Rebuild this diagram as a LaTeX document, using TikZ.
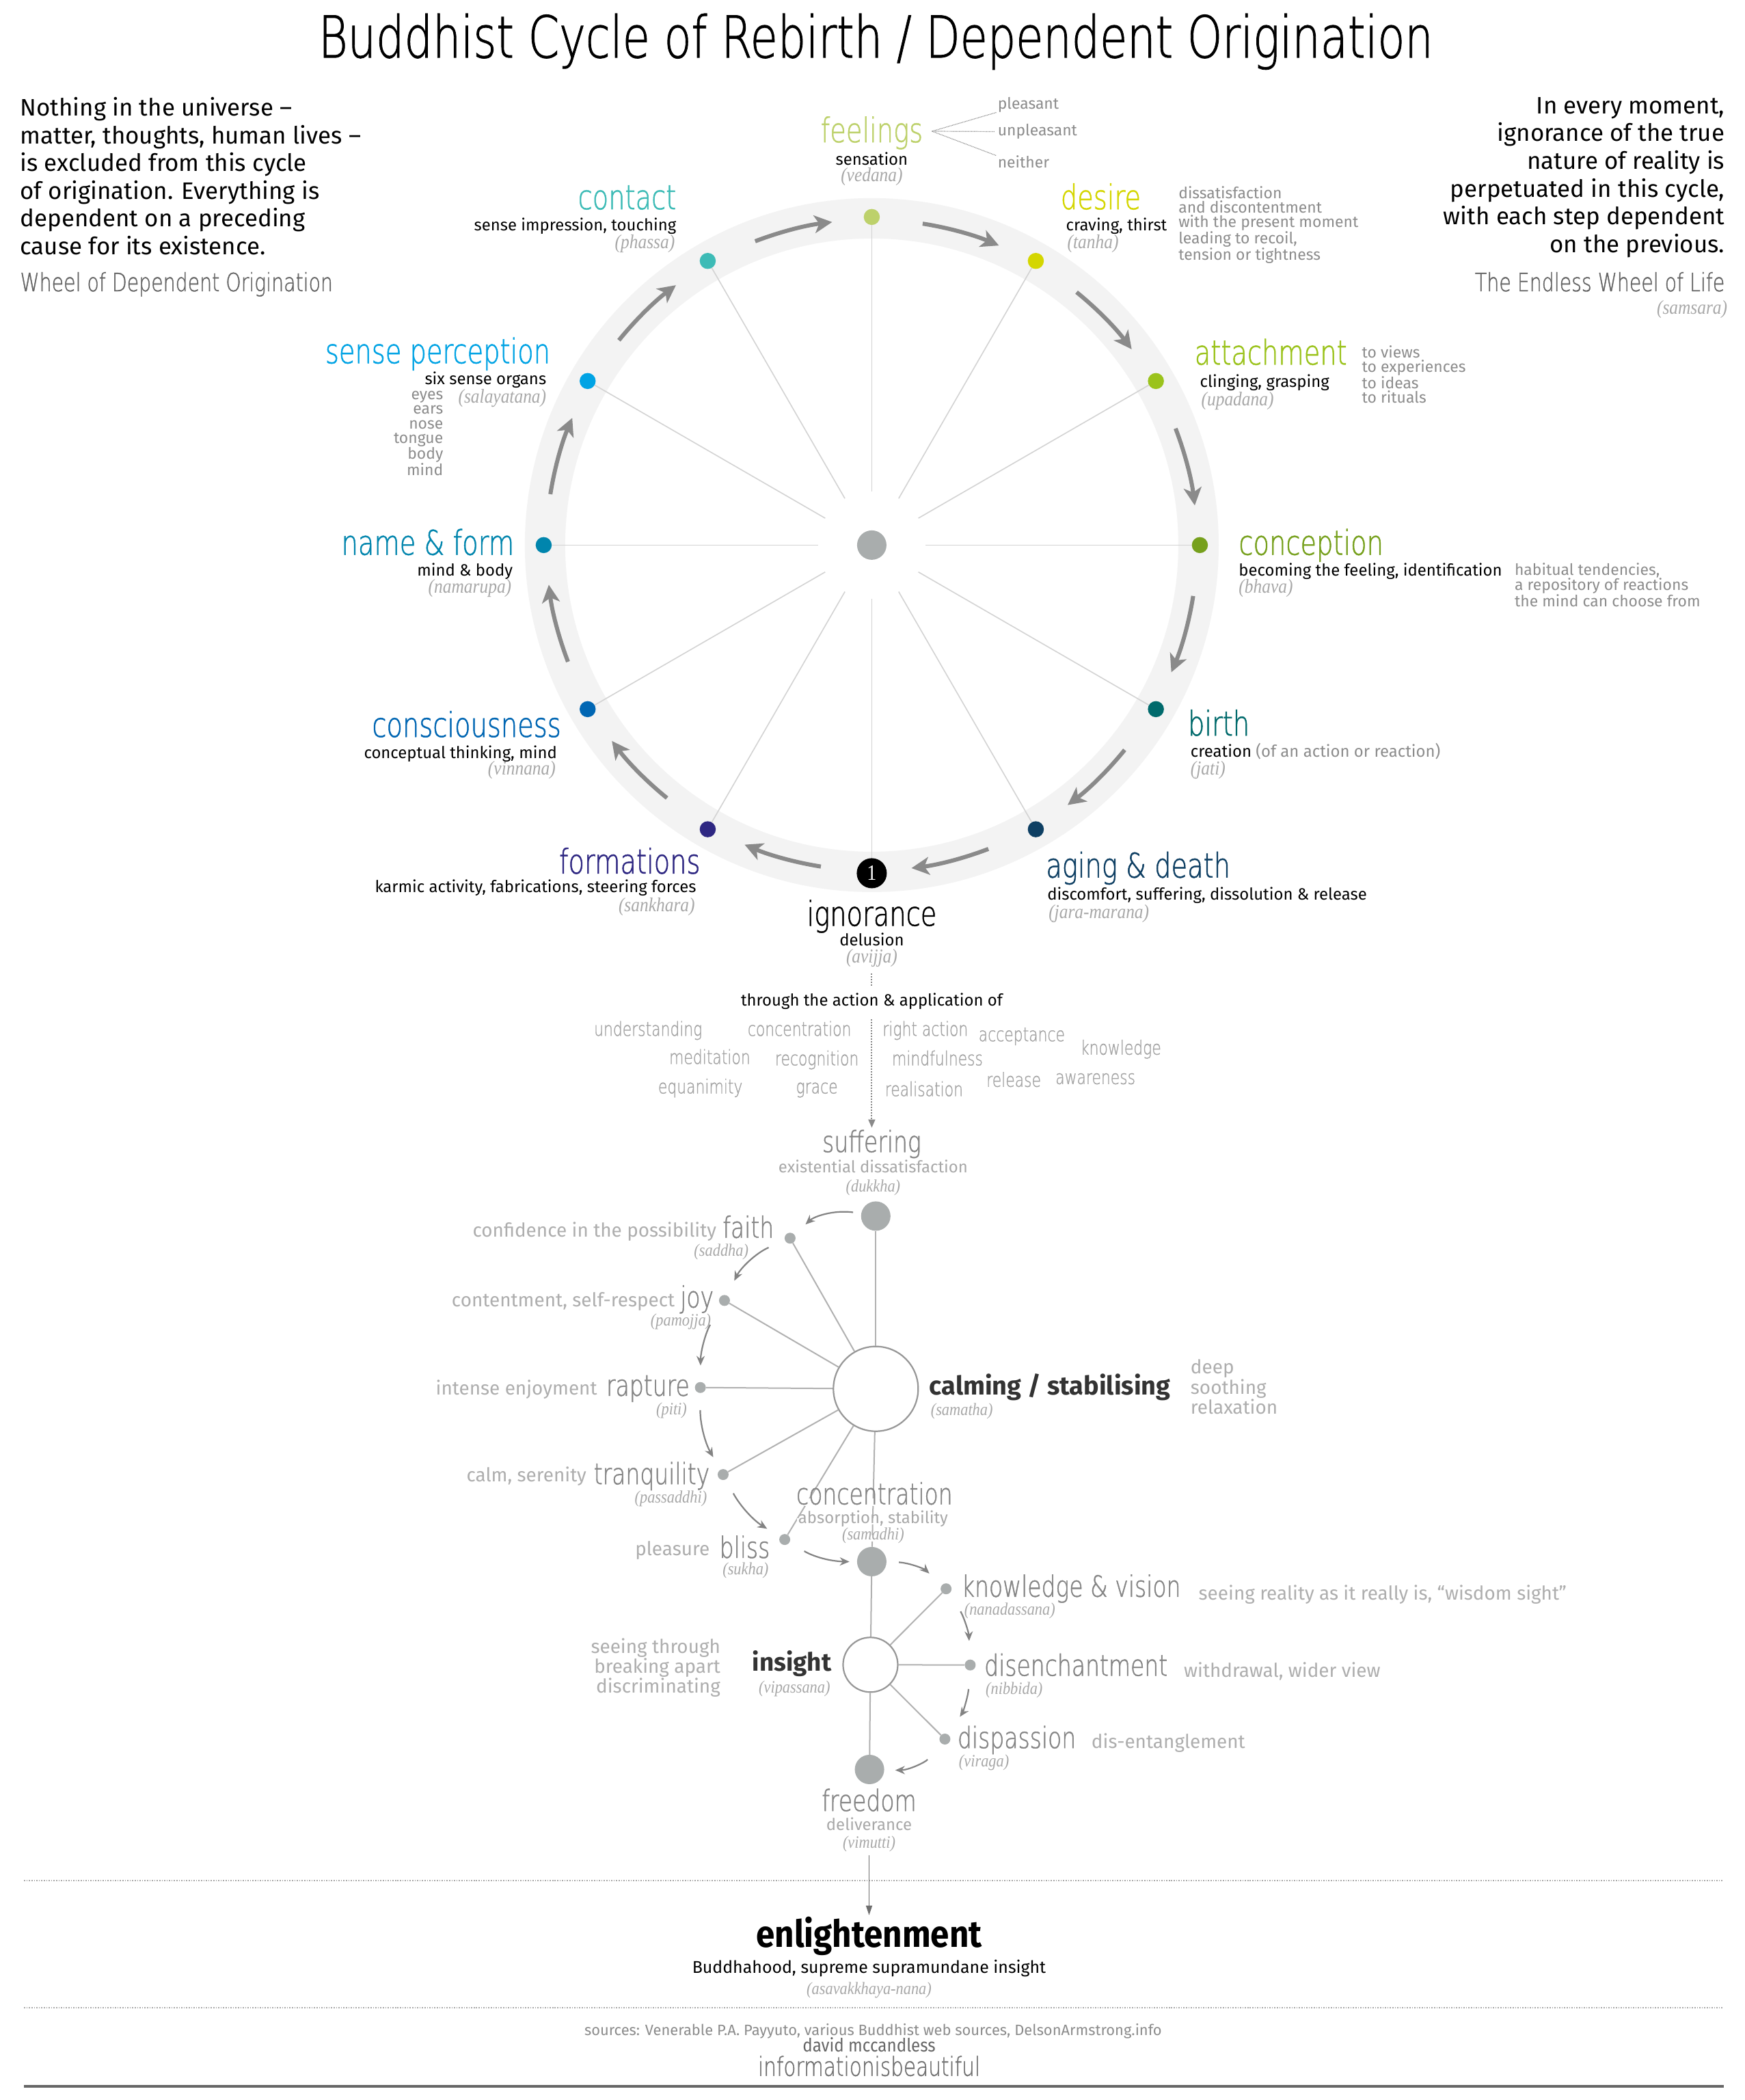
\documentclass[tikz,border=0pt]{standalone}
\usepackage{fontspec}
\setmainfont{Fira Sans}
\newfontfamily\lt{DejaVu Sans ExtraLight}[FakeStretch=0.77, FakeBold=1]
\newfontfamily\rg{Fira Sans}
\newfontfamily\rgc{Fira Sans}[FakeStretch=0.9]
\newfontfamily\srf{Liberation Serif}[FakeStretch=0.88]
\usetikzlibrary{arrows.meta}
\definecolor{cFeel}{HTML}{BDD16B}
\definecolor{cDes}{HTML}{D4D600}
\definecolor{cAtt}{HTML}{9BC31C}
\definecolor{cCon}{HTML}{76A01C}
\definecolor{cBir}{HTML}{006A6C}
\definecolor{cAge}{HTML}{0E3F63}
\definecolor{cFor}{HTML}{2E2782}
\definecolor{cCns}{HTML}{0066B3}
\definecolor{cNam}{HTML}{0085AD}
\definecolor{cSen}{HTML}{00A3E4}
\definecolor{cCnt}{HTML}{3DBBB6}
\definecolor{ringgray}{HTML}{F3F3F3}
\definecolor{spokegray}{HTML}{D3D3D3}
\definecolor{arrowgray}{HTML}{8A8A8A}
\definecolor{palgray}{HTML}{A8A8A8}
\definecolor{notegray}{HTML}{8C8C8C}
\definecolor{hubgray}{HTML}{A9ADAD}
\definecolor{lowtitle}{HTML}{858585}
\definecolor{lowsub}{HTML}{A8A8A8}
\definecolor{lownote}{HTML}{AEAEAE}
\definecolor{darktxt}{HTML}{333333}
\definecolor{cloudgray}{HTML}{A5A5A5}
\tikzset{
  ttl/.style={font=\lt\fontsize{50}{56}\selectfont, inner sep=0pt, anchor=mid, yshift=-13.5bp, text height=1.2ex, text depth=0pt},
  sub/.style={font=\rg\fontsize{24}{28}\selectfont, inner sep=0pt, text=black, anchor=mid, yshift=-7.5bp, text height=1ex, text depth=0pt},
  pal/.style={font=\srf\itshape\fontsize{29}{32}\selectfont, inner sep=0pt, text=palgray, anchor=mid, yshift=-8.5bp, text height=1ex, text depth=0pt},
  note/.style={font=\rg\fontsize{23}{21.3}\selectfont, inner sep=0pt, text=notegray, yshift=-4bp},
  para/.style={font=\rg\fontsize{35}{40.7}\selectfont, inner sep=0pt, text=black, yshift=-3bp},
  wdot/.style={circle, inner sep=0pt, minimum size=23.5bp},
  spoke/.style={draw=spokegray, line width=1.6bp},
  warrow/.style={draw=arrowgray, line width=6bp, -{Stealth[length=26bp, width=26bp, inset=7bp]}},
  fan/.style={draw=notegray, line width=1.2bp, densely dotted},
  cloud/.style={font=\lt\fontsize{28.5}{30}\selectfont, text=cloudgray, inner sep=0pt, anchor=mid, yshift=-8bp},
  ltt/.style={font=\lt\fontsize{43}{48}\selectfont, text=lowtitle, inner sep=0pt, anchor=mid, yshift=-11.5bp, text height=1.2ex, text depth=0pt},
  lsub/.style={font=\rg\fontsize{24}{27}\selectfont, text=lowsub, inner sep=0pt, anchor=mid, yshift=-6bp, text height=1ex, text depth=0pt},
  lpal/.style={font=\srf\itshape\fontsize{25.5}{28}\selectfont, text=lowsub, inner sep=0pt, anchor=mid, yshift=-7bp, text height=1ex, text depth=0pt},
  lnote/.style={font=\rg\fontsize{28}{29.5}\selectfont, text=lownote, inner sep=0pt, yshift=-6bp},
  bigdot/.style={circle, inner sep=0pt, minimum size=43bp, fill=hubgray},
  smdot/.style={circle, inner sep=0pt, minimum size=16bp, fill=hubgray},
  ring/.style={circle, inner sep=0pt, draw=lowtitle!85, line width=2.2bp, fill=white},
  lspoke/.style={draw=lowsub!90, line width=2bp},
  carrow/.style={draw=arrowgray!95!black, line width=2.2bp, -{Stealth[length=14bp, width=12bp]}},
  dotln/.style={draw=arrowgray, line width=2bp, dotted},
  hdots/.style={draw=lowsub, line width=1.6bp, dotted},
  boldl/.style={font=\rg\bfseries\fontsize{38}{42}\selectfont, text=darktxt, inner sep=0pt, yshift=-10bp},
}
\begin{document}
\begin{tikzpicture}[x=1.9586bp, y=-1.9586bp]
\useasboundingbox (0,0) rectangle (1303,1568);
\fill[white] (0,0) rectangle (1303,1568);

% ---------- title and side texts
\node[font=\lt\fontsize{85}{92}\selectfont, anchor=base, inner sep=0pt] (title) at (654,43) {Buddhist Cycle of Rebirth / Dependent Origination};

\node[para, anchor=north west, align=left] (lpara) at (15,71) {Nothing in the universe –\\matter, thoughts, human lives –\\is excluded from this cycle\\of origination. Everything is\\dependent on a preceding\\cause for its existence.};
\node[font=\lt\fontsize{37}{40}\selectfont, text=black!60, inner sep=0pt, anchor=mid west, yshift=-10bp] (lwheel) at (15,211) {Wheel of Dependent Origination};

\node[para, anchor=north east, align=right] (rpara) at (1288,71) {In every moment,\\ignorance of the true\\nature of reality is\\perpetuated in this cycle,\\with each step dependent\\on the previous.};
\node[font=\lt\fontsize{37}{40}\selectfont, text=black!60, inner sep=0pt, anchor=mid east, yshift=-10bp] (rwheel) at (1288,211) {The Endless Wheel of Life};
\node[pal, anchor=mid east] (rsams) at (1290,229) {(samsara)};

% ---------- wheel
\begin{scope}[shift={(651,407)}]
  \coordinate (C) at (0,0);
  \draw[line width=59bp, ringgray] (C) circle[radius=244];
  \node[bigdot] (hub) at (C) {};
  \node[wdot, fill=black, minimum size=44bp, text=white, font=\srf\fontsize{32}{32}\selectfont] (nIgn) at (90:245) {1};
  \node[wdot, fill=cFor] (nFor) at (120:245) {};
  \node[wdot, fill=cCns] (nCns) at (150:245) {};
  \node[wdot, fill=cNam] (nNam) at (180:245) {};
  \node[wdot, fill=cSen] (nSen) at (210:245) {};
  \node[wdot, fill=cCnt] (nCnt) at (240:245) {};
  \node[wdot, fill=cFeel] (nFeel) at (270:245) {};
  \node[wdot, fill=cDes] (nDes) at (300:245) {};
  \node[wdot, fill=cAtt] (nAtt) at (330:245) {};
  \node[wdot, fill=cCon] (nCon) at (0:245) {};
  \node[wdot, fill=cBir] (nBir) at (30:245) {};
  \node[wdot, fill=cAge] (nAge) at (60:245) {};
  \foreach \n in {nIgn,nFor,nCns,nNam,nSen,nCnt,nFeel,nDes,nAtt,nCon,nBir,nAge}
    \draw[spoke, shorten <=57bp] (hub) -- (\n);
  \foreach \a in {90,120,...,420}
    \draw[warrow] ({\a+9}:243) arc[start angle=\a+9, end angle=\a+23, radius=243];
\end{scope}

% ---------- wheel labels
% feelings
\node[ttl, text=cFeel] (tFeel) at (651,98) {feelings};
\node[sub] (sFeel) at (651,118) {sensation};
\node[pal] (pFeel) at (651,130) {(vedana)};
\node[note, anchor=mid west] (fpl) at (745,78) {pleasant};
\node[note, anchor=mid west] (fun) at (745,98) {unpleasant};
\node[note, anchor=mid west] (fne) at (745,122) {neither};
\coordinate (fanO) at (696,98);
\draw[fan] (fanO) -- ([xshift=-2bp]fpl.south west);
\draw[fan] (fanO) -- ([xshift=-4bp]fun.west);
\draw[fan] (fanO) -- ([xshift=-2bp]fne.north west);
% desire
\node[ttl, text=cDes, anchor=mid west] (tDes) at (792,148) {desire};
\node[sub, anchor=mid west] (sDes) at (796,167) {craving, thirst};
\node[pal, anchor=mid west] (pDes) at (797,180) {(tanha)};
\node[note, anchor=north west, align=left] (nDesN) at (880,137) {dissatisfaction\\and discontentment\\with the present moment\\leading to recoil,\\tension or tightness};
% attachment
\node[ttl, text=cAtt, anchor=mid west] (tAtt) at (892,264) {attachment};
\node[sub, anchor=mid west] (sAtt) at (896,284) {clinging, grasping};
\node[pal, anchor=mid west] (pAtt) at (897,297) {(upadana)};
\node[note, anchor=north west, align=left] (nAttN) at (1017,256) {to views\\to experiences\\to ideas\\to rituals};
% conception
\node[ttl, text=cCon, anchor=mid west] (tCon) at (925,406) {conception};
\node[sub, anchor=mid west] (sCon) at (925,425) {becoming the feeling, identification};
\node[pal, anchor=mid west] (pCon) at (925,437) {(bhava)};
\node[note, anchor=north west, align=left] (nConN) at (1131,418) {habitual tendencies,\\a repository of reactions\\the mind can choose from};
% birth
\node[ttl, text=cBir, anchor=mid west] (tBir) at (887,541) {birth};
\node[sub, anchor=mid west] (sBir) at (889,560) {creation \textcolor{notegray}{(of an action or reaction)}};
\node[pal, anchor=mid west] (pBir) at (889,573) {(jati)};
% aging
\node[ttl, text=cAge, anchor=mid west] (tAge) at (781,647) {aging \& death};
\node[sub, anchor=mid west] (sAge) at (782,667) {discomfort, suffering, dissolution \& release};
\node[pal, anchor=mid west] (pAge) at (783,680) {(jara-marana)};
% ignorance
\node[ttl, text=black] (tIgn) at (651,683) {ignorance};
\node[sub] (sIgn) at (651,701) {delusion};
\node[pal] (pIgn) at (651,713) {(avijja)};
% formations
\node[ttl, text=cFor, anchor=mid east] (tFor) at (523,644) {formations};
\node[sub, anchor=mid east] (sFor) at (520,661) {karmic activity, fabrications, steering forces};
\node[pal, anchor=mid east] (pFor) at (519,675) {(sankhara)};
% consciousness
\node[ttl, text=cCns, anchor=mid east] (tCns) at (419,542) {consciousness};
\node[sub, anchor=mid east] (sCns) at (416,561) {conceptual thinking, mind};
\node[pal, anchor=mid east] (pCns) at (415,573) {(vinnana)};
% name & form
\node[ttl, text=cNam, anchor=mid east] (tNam) at (384,406) {name \& form};
\node[sub, anchor=mid east] (sNam) at (383,425) {mind \& body};
\node[pal, anchor=mid east] (pNam) at (382,437) {(namarupa)};
% sense perception
\node[ttl, text=cSen, anchor=mid east] (tSen) at (411,263) {sense perception};
\node[sub, anchor=mid east] (sSen) at (408,282) {six sense organs};
\node[pal, anchor=mid east] (pSen) at (408,295) {(salayatana)};
\node[note, anchor=north east, align=right] (nSenN) at (331,290) {eyes\\ears\\nose\\tongue\\body\\mind};
% contact
\node[ttl, text=cCnt, anchor=mid east] (tCnt) at (505,148) {contact};
\node[sub, anchor=mid east] (sCnt) at (505,167) {sense impression, touching};
\node[pal, anchor=mid east] (pCnt) at (504,180) {(phassa)};

% ---------- transition
\coordinate (dA) at (651,727);
\coordinate (dB) at (651,737);
\draw[dotln] (dA) -- (dB);
\node[sub] (thr) at (651,746) {through the action \& application of};
\node[cloud] (w1) at (484,768) {understanding};
\node[cloud] (w2) at (597,768) {concentration};
\node[cloud] (w3) at (691,768) {right action};
\node[cloud] (w4) at (763,772) {acceptance};
\node[cloud] (w5) at (837,782) {knowledge};
\node[cloud] (w6) at (530,789) {meditation};
\node[cloud] (w7) at (610,790) {recognition};
\node[cloud] (w8) at (700,790) {mindfulness};
\node[cloud] (w9) at (757,806) {release};
\node[cloud] (w10) at (818,804) {awareness};
\node[cloud] (w11) at (523,811) {equanimity};
\node[cloud] (w12) at (610,811) {grace};
\node[cloud] (w13) at (690,813) {realisation};
\coordinate (dC) at (651,761);
\coordinate (dD) at (651,842);
\draw[dotln, -{Triangle[length=12bp, width=10bp]}] (dC) -- (dD);

% ---------- calming section
\node[ltt] (tSuf) at (651,853) {suffering};
\node[lsub] (sSuf) at (652,871) {existential dissatisfaction};
\node[lpal] (pSuf) at (652,885) {(dukkha)};

\node[bigdot] (dSuf) at (654,908) {};
\node[ring, minimum size=124bp] (calm) at (654,1037) {};
\node[smdot] (dFai) at (590,924.5) {};
\node[smdot] (dJoy) at (541,971) {};
\node[smdot] (dRap) at (523,1036) {};
\node[smdot] (dTra) at (540,1101) {};
\node[smdot] (dBli) at (586,1149.5) {};
\node[bigdot] (dCnc) at (651,1166) {};
\node[ring, minimum size=80bp] (ins) at (650,1243) {};
\node[smdot] (dKv) at (706.5,1186.3) {};
\node[smdot] (dDis) at (724.5,1243.2) {};
\node[smdot] (dDsp) at (705.6,1298.5) {};
\node[bigdot] (dFre) at (649.3,1321.2) {};

\foreach \n in {dSuf,dFai,dJoy,dRap,dTra,dBli,dCnc}
  \draw[lspoke] (calm) -- (\n);
\foreach \n in {dCnc,dKv,dDis,dDsp,dFre}
  \draw[lspoke] (ins) -- (\n);

\draw[carrow, shorten <=12bp, shorten >=22bp] (dSuf) to[bend right=25] (dFai);
\draw[carrow, shorten <=26bp, shorten >=24bp] (dFai) to[bend right=20] (dJoy);
\draw[carrow, shorten <=33bp, shorten >=24bp] (dJoy) to[bend right=15] (dRap);
\draw[carrow, shorten <=25bp, shorten >=21bp] (dRap) to[bend right=15] (dTra);
\draw[carrow, shorten <=23bp, shorten >=22bp] (dTra) to[bend right=15] (dBli);
\draw[carrow, shorten <=25bp, shorten >=11bp] (dBli) to[bend right=15] (dCnc);
\draw[carrow, shorten <=18bp, shorten >=25bp] (dCnc) to[bend left=20] (dKv);
\draw[carrow, shorten <=31bp, shorten >=27bp] (dKv) to[bend left=15] (dDis);
\draw[carrow, shorten <=27bp, shorten >=31bp] (dDis) to[bend left=15] (dDsp);
\draw[carrow, shorten <=31bp, shorten >=16bp] (dDsp) to[bend left=25] (dFre);

% calming labels
\node[ltt, anchor=mid east] (tFai) at (578,917) {faith};
\node[lnote, anchor=mid east] (nFai) at (535,919) {confidence in the possibility};
\node[lpal, anchor=mid east] (pFai) at (559,933) {(saddha)};
\node[ltt, anchor=mid east] (tJoy) at (533,969) {joy};
\node[lnote, anchor=mid east] (nJoy) at (504,971) {contentment, self-respect};
\node[lpal, anchor=mid east] (pJoy) at (531,985) {(pamojja)};
\node[ltt, anchor=mid east] (tRap) at (515,1035) {rapture};
\node[lnote, anchor=mid east] (nRap) at (446,1037) {intense enjoyment};
\node[lpal, anchor=mid east] (pRap) at (513,1051.5) {(piti)};
\node[ltt, anchor=mid east] (tTra) at (530,1101) {tranquility};
\node[lnote, anchor=mid east] (nTra) at (438,1102) {calm, serenity};
\node[lpal, anchor=mid east] (pTra) at (528,1117) {(passaddhi)};
\node[ltt, anchor=mid east] (tBli) at (575,1156) {bliss};
\node[lnote, anchor=mid east] (nBli) at (530,1157) {pleasure};
\node[lpal, anchor=mid east] (pBli) at (574,1171) {(sukha)};

\node[boldl, anchor=mid west] (tCal) at (694,1035) {calming / stabilising};
\node[lpal, anchor=mid west] (pCal) at (695,1052) {(samatha)};
\node[lnote, anchor=north west, align=left] (nCal) at (889,1012) {deep\\soothing\\relaxation};

\node[ltt, fill=white, inner sep=2bp] (tCnc) at (653,1116) {concentration};
\node[lsub, fill=white, inner sep=2bp] (sCnc) at (652,1133) {absorption, stability};
\node[lpal, fill=white, inner sep=2bp] (pCnc) at (652,1145) {(samadhi)};

% insight labels
\node[ltt, anchor=mid west] (tKv) at (718,1185) {knowledge \& vision};
\node[lnote, anchor=mid west] (nKv) at (895,1190) {seeing reality as it really is, “wisdom sight”};
\node[lpal, anchor=mid west] (pKv) at (720,1201) {(nanadassana)};
\node[ltt, anchor=mid west] (tDis) at (735,1244) {disenchantment};
\node[lnote, anchor=mid west] (nDis) at (884,1248) {withdrawal, wider view};
\node[lpal, anchor=mid west] (pDis) at (736,1260) {(nibbida)};
\node[ltt, anchor=mid west] (tDsp) at (715,1298) {dispassion};
\node[lnote, anchor=mid west] (nDsp) at (815,1301) {dis-entanglement};
\node[lpal, anchor=mid west] (pDsp) at (716,1314) {(viraga)};
\node[boldl, anchor=mid east, font=\rg\bfseries\fontsize{37}{40}\selectfont] (tIns) at (621,1241) {insight};
\node[lpal, anchor=mid east] (pIns) at (620,1259) {(vipassana)};
\node[lnote, anchor=north east, align=right] (nIns) at (538,1220) {seeing through\\breaking apart\\discriminating};
\node[ltt] (tFre) at (649,1345) {freedom};
\node[lsub] (sFre) at (649,1362) {deliverance};
\node[lpal] (pFre) at (649,1375) {(vimutti)};

% ---------- enlightenment
\coordinate (hL1) at (18,1404);
\coordinate (hR1) at (1287,1404);
\coordinate (hL2) at (18,1499);
\coordinate (hR2) at (1287,1499);
\draw[hdots] (hL1) -- (hR1);
\draw[hdots] (hL2) -- (hR2);
\coordinate (eA) at (649,1385);
\coordinate (eB) at (649,1430);
\draw[draw=arrowgray!80!black, line width=1.6bp, -{Triangle[length=14bp, width=9bp]}] (eA) -- (eB);
\node[font=\rgc\bfseries\fontsize{55}{60}\selectfont, text=black, inner sep=0pt, anchor=mid, yshift=-15bp] (tEnl) at (649,1445) {enlightenment};
\node[font=\rg\fontsize{25}{28}\selectfont, text=black, inner sep=0pt, anchor=mid, yshift=-8bp] (sEnl) at (649,1468) {Buddhahood, supreme supramundane insight};
\node[lpal] (pEnl) at (649,1484) {(asavakkhaya-nana)};

% ---------- footer
\node[font=\rg\fontsize{22}{24}\selectfont, text=notegray, inner sep=0pt, anchor=mid, yshift=-5bp] (src) at (652,1516) {sources: Venerable P.A. Payyuto, various Buddhist web sources, DelsonArmstrong.info};
\node[font=\rgc\fontsize{27}{30}\selectfont, text=black!60, inner sep=0pt, anchor=mid, yshift=-5bp, text height=1ex, text depth=0pt] (dmc) at (649,1528) {david mccandless};
\node[font=\lt\fontsize{38.5}{42}\selectfont, text=black!55, inner sep=0pt, anchor=mid, yshift=-9bp] (iib) at (649,1544) {informationisbeautiful};
\coordinate (bL) at (18,1558);
\coordinate (bR) at (1287,1558);
\draw[draw=black!60, line width=4bp] (bL) -- (bR);
\end{tikzpicture}
\end{document}
